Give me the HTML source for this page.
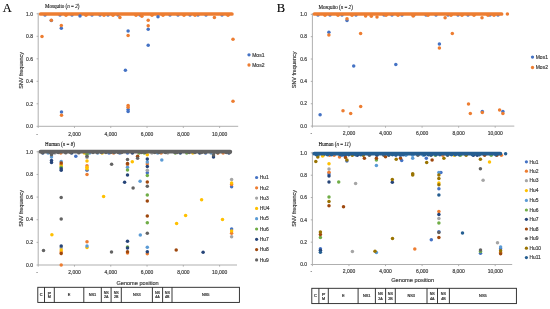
<!DOCTYPE html>
<html><head><meta charset="utf-8"><style>
html,body{margin:0;padding:0;background:#fff;}
body{width:550px;height:309px;overflow:hidden;}
svg{display:block;}
</style></head><body>
<svg width="550" height="309" viewBox="0 0 550 309">
<rect width="550" height="309" fill="#fff"/>
<text x="2.80" y="12.30" font-size="12.4" text-anchor="start" font-family='"Liberation Serif",serif' fill="#000" stroke="#000" stroke-width="0.12" >A</text>
<text x="276.80" y="12.00" font-size="12.6" text-anchor="start" font-family='"Liberation Serif",serif' fill="#000" stroke="#000" stroke-width="0.12" >B</text>
<line x1="38.2" y1="12.8" x2="38.2" y2="126.3" stroke="#A6A6A6" stroke-width="0.9"/>
<line x1="38.2" y1="126.3" x2="238.2" y2="126.3" stroke="#A6A6A6" stroke-width="0.9"/>
<line x1="36.6" y1="126.3" x2="38.2" y2="126.3" stroke="#A6A6A6" stroke-width="0.9"/>
<text x="32.90" y="128.00" font-size="4.95" text-anchor="end" font-family='"Liberation Sans",sans-serif' fill="#404040" stroke="#404040" stroke-width="0.18" >0.0</text>
<line x1="36.6" y1="103.8" x2="38.2" y2="103.8" stroke="#A6A6A6" stroke-width="0.9"/>
<text x="32.90" y="105.50" font-size="4.95" text-anchor="end" font-family='"Liberation Sans",sans-serif' fill="#404040" stroke="#404040" stroke-width="0.18" >0.2</text>
<line x1="36.6" y1="81.3" x2="38.2" y2="81.3" stroke="#A6A6A6" stroke-width="0.9"/>
<text x="32.90" y="83.00" font-size="4.95" text-anchor="end" font-family='"Liberation Sans",sans-serif' fill="#404040" stroke="#404040" stroke-width="0.18" >0.4</text>
<line x1="36.6" y1="58.8" x2="38.2" y2="58.8" stroke="#A6A6A6" stroke-width="0.9"/>
<text x="32.90" y="60.50" font-size="4.95" text-anchor="end" font-family='"Liberation Sans",sans-serif' fill="#404040" stroke="#404040" stroke-width="0.18" >0.6</text>
<line x1="36.6" y1="36.3" x2="38.2" y2="36.3" stroke="#A6A6A6" stroke-width="0.9"/>
<text x="32.90" y="38.00" font-size="4.95" text-anchor="end" font-family='"Liberation Sans",sans-serif' fill="#404040" stroke="#404040" stroke-width="0.18" >0.8</text>
<line x1="36.6" y1="13.799999999999997" x2="38.2" y2="13.799999999999997" stroke="#A6A6A6" stroke-width="0.9"/>
<text x="32.90" y="15.50" font-size="4.95" text-anchor="end" font-family='"Liberation Sans",sans-serif' fill="#404040" stroke="#404040" stroke-width="0.18" >1.0</text>
<line x1="38.2" y1="126.3" x2="38.2" y2="127.89999999999999" stroke="#A6A6A6" stroke-width="0.9"/>
<text x="37.20" y="135.50" font-size="4.95" text-anchor="middle" font-family='"Liberation Sans",sans-serif' fill="#404040" stroke="#404040" stroke-width="0.18" >-</text>
<line x1="74.48" y1="126.3" x2="74.48" y2="127.89999999999999" stroke="#A6A6A6" stroke-width="0.9"/>
<text x="74.48" y="135.50" font-size="4.95" text-anchor="middle" font-family='"Liberation Sans",sans-serif' fill="#404040" stroke="#404040" stroke-width="0.18" >2,000</text>
<line x1="110.76" y1="126.3" x2="110.76" y2="127.89999999999999" stroke="#A6A6A6" stroke-width="0.9"/>
<text x="110.76" y="135.50" font-size="4.95" text-anchor="middle" font-family='"Liberation Sans",sans-serif' fill="#404040" stroke="#404040" stroke-width="0.18" >4,000</text>
<line x1="147.04000000000002" y1="126.3" x2="147.04000000000002" y2="127.89999999999999" stroke="#A6A6A6" stroke-width="0.9"/>
<text x="147.04" y="135.50" font-size="4.95" text-anchor="middle" font-family='"Liberation Sans",sans-serif' fill="#404040" stroke="#404040" stroke-width="0.18" >6,000</text>
<line x1="183.32" y1="126.3" x2="183.32" y2="127.89999999999999" stroke="#A6A6A6" stroke-width="0.9"/>
<text x="183.32" y="135.50" font-size="4.95" text-anchor="middle" font-family='"Liberation Sans",sans-serif' fill="#404040" stroke="#404040" stroke-width="0.18" >8,000</text>
<line x1="219.60000000000002" y1="126.3" x2="219.60000000000002" y2="127.89999999999999" stroke="#A6A6A6" stroke-width="0.9"/>
<text x="219.60" y="135.50" font-size="4.95" text-anchor="middle" font-family='"Liberation Sans",sans-serif' fill="#404040" stroke="#404040" stroke-width="0.18" >10,000</text>
<text x="45.00" y="8.30" font-size="5.05" text-anchor="start" font-family='"Liberation Serif",serif' fill="#111" stroke="#111" stroke-width="0.1" >Mosquito (<tspan font-style="italic">n</tspan> = <tspan font-style="italic">2</tspan>)</text>
<text x="0.00" y="0.00" font-size="5.45" text-anchor="middle" font-family='"Liberation Sans",sans-serif' fill="#404040" stroke="#404040" stroke-width="0.18" transform="translate(23.1,70.4) rotate(-90)">SNV frequency</text>
<circle cx="45.0" cy="14.9" r="1.75" fill="#4472C4"/>
<circle cx="60.0" cy="14.9" r="1.75" fill="#4472C4"/>
<circle cx="72.0" cy="14.9" r="1.75" fill="#4472C4"/>
<circle cx="92.0" cy="14.9" r="1.75" fill="#4472C4"/>
<circle cx="100.0" cy="14.9" r="1.75" fill="#4472C4"/>
<circle cx="108.0" cy="14.9" r="1.75" fill="#4472C4"/>
<circle cx="118.0" cy="14.9" r="1.75" fill="#4472C4"/>
<circle cx="140.0" cy="14.9" r="1.75" fill="#4472C4"/>
<circle cx="170.0" cy="14.9" r="1.75" fill="#4472C4"/>
<circle cx="178.0" cy="14.9" r="1.75" fill="#4472C4"/>
<circle cx="190.0" cy="14.9" r="1.75" fill="#4472C4"/>
<circle cx="198.0" cy="14.9" r="1.75" fill="#4472C4"/>
<circle cx="206.0" cy="14.9" r="1.75" fill="#4472C4"/>
<circle cx="222.0" cy="14.9" r="1.75" fill="#4472C4"/>
<circle cx="66.0" cy="15.2" r="1.75" fill="#ED7D31"/>
<circle cx="86.0" cy="15.2" r="1.75" fill="#ED7D31"/>
<circle cx="104.0" cy="15.2" r="1.75" fill="#ED7D31"/>
<circle cx="113.0" cy="15.2" r="1.75" fill="#ED7D31"/>
<circle cx="136.0" cy="15.2" r="1.75" fill="#ED7D31"/>
<circle cx="152.0" cy="15.2" r="1.75" fill="#ED7D31"/>
<circle cx="163.0" cy="15.2" r="1.75" fill="#ED7D31"/>
<circle cx="184.0" cy="15.2" r="1.75" fill="#ED7D31"/>
<circle cx="195.0" cy="15.2" r="1.75" fill="#ED7D31"/>
<circle cx="228.0" cy="15.2" r="1.75" fill="#ED7D31"/>
<line x1="40.6" y1="14.0" x2="231.9" y2="14.0" stroke="#ED7D31" stroke-width="3.7" stroke-linecap="round"/>
<circle cx="51.3" cy="20.6" r="1.75" fill="#4472C4"/>
<circle cx="61.3" cy="28.3" r="1.75" fill="#4472C4"/>
<circle cx="80.0" cy="15.9" r="1.75" fill="#4472C4"/>
<circle cx="158.0" cy="16.8" r="1.75" fill="#4472C4"/>
<circle cx="128.1" cy="31.0" r="1.75" fill="#4472C4"/>
<circle cx="148.2" cy="29.2" r="1.75" fill="#4472C4"/>
<circle cx="148.2" cy="45.3" r="1.75" fill="#4472C4"/>
<circle cx="125.4" cy="70.2" r="1.75" fill="#4472C4"/>
<circle cx="61.5" cy="112.0" r="1.75" fill="#4472C4"/>
<circle cx="128.1" cy="109.6" r="1.75" fill="#4472C4"/>
<circle cx="128.1" cy="111.5" r="1.75" fill="#4472C4"/>
<circle cx="42.0" cy="36.5" r="1.75" fill="#ED7D31"/>
<circle cx="51.3" cy="20.2" r="1.75" fill="#ED7D31"/>
<circle cx="61.3" cy="25.4" r="1.75" fill="#ED7D31"/>
<circle cx="119.9" cy="17.5" r="1.75" fill="#ED7D31"/>
<circle cx="141.9" cy="16.3" r="1.75" fill="#ED7D31"/>
<circle cx="128.1" cy="35.4" r="1.75" fill="#ED7D31"/>
<circle cx="148.2" cy="20.2" r="1.75" fill="#ED7D31"/>
<circle cx="148.2" cy="25.8" r="1.75" fill="#ED7D31"/>
<circle cx="61.5" cy="115.3" r="1.75" fill="#ED7D31"/>
<circle cx="128.1" cy="105.4" r="1.75" fill="#ED7D31"/>
<circle cx="128.1" cy="107.3" r="1.75" fill="#ED7D31"/>
<circle cx="214.4" cy="17.5" r="1.75" fill="#ED7D31"/>
<circle cx="233.0" cy="39.2" r="1.75" fill="#ED7D31"/>
<circle cx="233.0" cy="101.3" r="1.75" fill="#ED7D31"/>
<circle cx="249.0" cy="54.8" r="1.65" fill="#4472C4"/>
<text x="252.20" y="56.60" font-size="5.0" text-anchor="start" font-family='"Liberation Sans",sans-serif' fill="#404040" stroke="#404040" stroke-width="0.18" >Mos1</text>
<circle cx="249.0" cy="65.0" r="1.65" fill="#ED7D31"/>
<text x="252.20" y="66.80" font-size="5.0" text-anchor="start" font-family='"Liberation Sans",sans-serif' fill="#404040" stroke="#404040" stroke-width="0.18" >Mos2</text>
<line x1="38.2" y1="150.8" x2="38.2" y2="265.0" stroke="#A6A6A6" stroke-width="0.9"/>
<line x1="38.2" y1="265.0" x2="237.0" y2="265.0" stroke="#A6A6A6" stroke-width="0.9"/>
<line x1="36.6" y1="265.0" x2="38.2" y2="265.0" stroke="#A6A6A6" stroke-width="0.9"/>
<text x="32.90" y="266.70" font-size="4.95" text-anchor="end" font-family='"Liberation Sans",sans-serif' fill="#404040" stroke="#404040" stroke-width="0.18" >0.0</text>
<line x1="36.6" y1="242.36" x2="38.2" y2="242.36" stroke="#A6A6A6" stroke-width="0.9"/>
<text x="32.90" y="244.06" font-size="4.95" text-anchor="end" font-family='"Liberation Sans",sans-serif' fill="#404040" stroke="#404040" stroke-width="0.18" >0.2</text>
<line x1="36.6" y1="219.72" x2="38.2" y2="219.72" stroke="#A6A6A6" stroke-width="0.9"/>
<text x="32.90" y="221.42" font-size="4.95" text-anchor="end" font-family='"Liberation Sans",sans-serif' fill="#404040" stroke="#404040" stroke-width="0.18" >0.4</text>
<line x1="36.6" y1="197.07999999999998" x2="38.2" y2="197.07999999999998" stroke="#A6A6A6" stroke-width="0.9"/>
<text x="32.90" y="198.78" font-size="4.95" text-anchor="end" font-family='"Liberation Sans",sans-serif' fill="#404040" stroke="#404040" stroke-width="0.18" >0.6</text>
<line x1="36.6" y1="174.44" x2="38.2" y2="174.44" stroke="#A6A6A6" stroke-width="0.9"/>
<text x="32.90" y="176.14" font-size="4.95" text-anchor="end" font-family='"Liberation Sans",sans-serif' fill="#404040" stroke="#404040" stroke-width="0.18" >0.8</text>
<line x1="36.6" y1="151.8" x2="38.2" y2="151.8" stroke="#A6A6A6" stroke-width="0.9"/>
<text x="32.90" y="153.50" font-size="4.95" text-anchor="end" font-family='"Liberation Sans",sans-serif' fill="#404040" stroke="#404040" stroke-width="0.18" >1.0</text>
<line x1="38.2" y1="265.0" x2="38.2" y2="266.6" stroke="#A6A6A6" stroke-width="0.9"/>
<text x="37.20" y="273.60" font-size="4.95" text-anchor="middle" font-family='"Liberation Sans",sans-serif' fill="#404040" stroke="#404040" stroke-width="0.18" >-</text>
<line x1="74.48" y1="265.0" x2="74.48" y2="266.6" stroke="#A6A6A6" stroke-width="0.9"/>
<text x="74.48" y="273.60" font-size="4.95" text-anchor="middle" font-family='"Liberation Sans",sans-serif' fill="#404040" stroke="#404040" stroke-width="0.18" >2,000</text>
<line x1="110.76" y1="265.0" x2="110.76" y2="266.6" stroke="#A6A6A6" stroke-width="0.9"/>
<text x="110.76" y="273.60" font-size="4.95" text-anchor="middle" font-family='"Liberation Sans",sans-serif' fill="#404040" stroke="#404040" stroke-width="0.18" >4,000</text>
<line x1="147.04000000000002" y1="265.0" x2="147.04000000000002" y2="266.6" stroke="#A6A6A6" stroke-width="0.9"/>
<text x="147.04" y="273.60" font-size="4.95" text-anchor="middle" font-family='"Liberation Sans",sans-serif' fill="#404040" stroke="#404040" stroke-width="0.18" >6,000</text>
<line x1="183.32" y1="265.0" x2="183.32" y2="266.6" stroke="#A6A6A6" stroke-width="0.9"/>
<text x="183.32" y="273.60" font-size="4.95" text-anchor="middle" font-family='"Liberation Sans",sans-serif' fill="#404040" stroke="#404040" stroke-width="0.18" >8,000</text>
<line x1="219.60000000000002" y1="265.0" x2="219.60000000000002" y2="266.6" stroke="#A6A6A6" stroke-width="0.9"/>
<text x="219.60" y="273.60" font-size="4.95" text-anchor="middle" font-family='"Liberation Sans",sans-serif' fill="#404040" stroke="#404040" stroke-width="0.18" >10,000</text>
<text x="45.00" y="146.20" font-size="5.05" text-anchor="start" font-family='"Liberation Serif",serif' fill="#111" stroke="#111" stroke-width="0.1" >Human (<tspan font-style="italic">n</tspan> = <tspan font-style="italic">8</tspan>)</text>
<text x="0.00" y="0.00" font-size="5.45" text-anchor="middle" font-family='"Liberation Sans",sans-serif' fill="#404040" stroke="#404040" stroke-width="0.18" transform="translate(23.1,208.4) rotate(-90)">SNV frequency</text>
<text x="137.60" y="284.70" font-size="5.6" text-anchor="middle" font-family='"Liberation Sans",sans-serif' fill="#404040" stroke="#404040" stroke-width="0.18" >Genome position</text>
<circle cx="42.8" cy="153.0" r="1.75" fill="#264478"/>
<circle cx="48.1" cy="153.0" r="1.75" fill="#5B9BD5"/>
<circle cx="54.9" cy="153.0" r="1.75" fill="#A5A5A5"/>
<circle cx="60.8" cy="153.0" r="1.75" fill="#ED7D31"/>
<circle cx="65.8" cy="153.0" r="1.75" fill="#A5A5A5"/>
<circle cx="71.6" cy="153.0" r="1.75" fill="#264478"/>
<circle cx="78.6" cy="153.0" r="1.75" fill="#A5A5A5"/>
<circle cx="84.4" cy="153.0" r="1.75" fill="#FFC000"/>
<circle cx="89.7" cy="153.0" r="1.75" fill="#5B9BD5"/>
<circle cx="97.6" cy="153.0" r="1.75" fill="#5B9BD5"/>
<circle cx="102.2" cy="153.0" r="1.75" fill="#FFC000"/>
<circle cx="109.0" cy="153.0" r="1.75" fill="#4472C4"/>
<circle cx="113.5" cy="153.0" r="1.75" fill="#ED7D31"/>
<circle cx="119.9" cy="153.0" r="1.75" fill="#4472C4"/>
<circle cx="127.5" cy="153.0" r="1.75" fill="#4472C4"/>
<circle cx="132.4" cy="153.0" r="1.75" fill="#264478"/>
<circle cx="139.1" cy="153.0" r="1.75" fill="#70AD47"/>
<circle cx="144.2" cy="153.0" r="1.75" fill="#70AD47"/>
<circle cx="151.9" cy="153.0" r="1.75" fill="#A5A5A5"/>
<circle cx="157.6" cy="153.0" r="1.75" fill="#5B9BD5"/>
<circle cx="161.1" cy="153.0" r="1.75" fill="#ED7D31"/>
<circle cx="167.7" cy="153.0" r="1.75" fill="#A5A5A5"/>
<circle cx="175.3" cy="153.0" r="1.75" fill="#70AD47"/>
<circle cx="180.3" cy="153.0" r="1.75" fill="#264478"/>
<circle cx="186.7" cy="153.0" r="1.75" fill="#70AD47"/>
<circle cx="192.8" cy="153.0" r="1.75" fill="#FFC000"/>
<circle cx="199.7" cy="153.0" r="1.75" fill="#264478"/>
<circle cx="205.6" cy="153.0" r="1.75" fill="#4472C4"/>
<circle cx="211.1" cy="153.0" r="1.75" fill="#5B9BD5"/>
<circle cx="217.9" cy="153.0" r="1.75" fill="#9E480E"/>
<circle cx="223.1" cy="153.0" r="1.75" fill="#ED7D31"/>
<circle cx="228.9" cy="153.0" r="1.75" fill="#264478"/>
<circle cx="75.8" cy="156.3" r="1.75" fill="#4472C4"/>
<circle cx="87.0" cy="170.2" r="1.75" fill="#4472C4"/>
<circle cx="147.3" cy="172.8" r="1.75" fill="#4472C4"/>
<circle cx="231.6" cy="186.7" r="1.75" fill="#4472C4"/>
<circle cx="231.6" cy="228.9" r="1.75" fill="#4472C4"/>
<circle cx="61.2" cy="164.4" r="1.75" fill="#ED7D31"/>
<circle cx="61.2" cy="252.0" r="1.75" fill="#ED7D31"/>
<circle cx="61.2" cy="265.0" r="1.75" fill="#ED7D31"/>
<circle cx="87.0" cy="165.8" r="1.75" fill="#ED7D31"/>
<circle cx="87.0" cy="174.5" r="1.75" fill="#ED7D31"/>
<circle cx="87.0" cy="241.8" r="1.75" fill="#ED7D31"/>
<circle cx="127.5" cy="164.4" r="1.75" fill="#ED7D31"/>
<circle cx="127.5" cy="253.1" r="1.75" fill="#ED7D31"/>
<circle cx="147.3" cy="164.0" r="1.75" fill="#ED7D31"/>
<circle cx="147.3" cy="253.7" r="1.75" fill="#ED7D31"/>
<circle cx="231.6" cy="184.4" r="1.75" fill="#ED7D31"/>
<circle cx="231.6" cy="233.3" r="1.75" fill="#ED7D31"/>
<circle cx="61.2" cy="247.8" r="1.75" fill="#A5A5A5"/>
<circle cx="87.0" cy="157.6" r="1.75" fill="#A5A5A5"/>
<circle cx="147.3" cy="170.2" r="1.75" fill="#A5A5A5"/>
<circle cx="231.6" cy="179.6" r="1.75" fill="#A5A5A5"/>
<circle cx="231.6" cy="236.7" r="1.75" fill="#A5A5A5"/>
<circle cx="61.2" cy="166.0" r="1.75" fill="#FFC000"/>
<circle cx="61.2" cy="249.9" r="1.75" fill="#FFC000"/>
<circle cx="87.0" cy="161.0" r="1.75" fill="#FFC000"/>
<circle cx="87.0" cy="167.3" r="1.75" fill="#FFC000"/>
<circle cx="87.0" cy="168.7" r="1.75" fill="#FFC000"/>
<circle cx="87.0" cy="247.6" r="1.75" fill="#FFC000"/>
<circle cx="51.9" cy="234.8" r="1.75" fill="#FFC000"/>
<circle cx="132.3" cy="161.7" r="1.75" fill="#FFC000"/>
<circle cx="103.6" cy="196.5" r="1.75" fill="#FFC000"/>
<circle cx="147.3" cy="154.7" r="1.75" fill="#FFC000"/>
<circle cx="231.6" cy="182.9" r="1.75" fill="#FFC000"/>
<circle cx="231.6" cy="230.9" r="1.75" fill="#FFC000"/>
<circle cx="201.6" cy="199.8" r="1.75" fill="#FFC000"/>
<circle cx="185.6" cy="215.4" r="1.75" fill="#FFC000"/>
<circle cx="176.6" cy="223.4" r="1.75" fill="#FFC000"/>
<circle cx="222.5" cy="219.5" r="1.75" fill="#FFC000"/>
<circle cx="51.5" cy="157.0" r="1.75" fill="#5B9BD5"/>
<circle cx="61.2" cy="161.5" r="1.75" fill="#5B9BD5"/>
<circle cx="87.0" cy="245.9" r="1.75" fill="#5B9BD5"/>
<circle cx="127.5" cy="167.3" r="1.75" fill="#5B9BD5"/>
<circle cx="140.1" cy="181.3" r="1.75" fill="#5B9BD5"/>
<circle cx="147.3" cy="162.0" r="1.75" fill="#5B9BD5"/>
<circle cx="147.3" cy="247.2" r="1.75" fill="#5B9BD5"/>
<circle cx="161.8" cy="160.1" r="1.75" fill="#5B9BD5"/>
<circle cx="140.3" cy="235.1" r="1.75" fill="#5B9BD5"/>
<circle cx="61.2" cy="167.3" r="1.75" fill="#70AD47"/>
<circle cx="87.0" cy="154.3" r="1.75" fill="#70AD47"/>
<circle cx="127.5" cy="169.9" r="1.75" fill="#70AD47"/>
<circle cx="127.5" cy="246.9" r="1.75" fill="#70AD47"/>
<circle cx="147.3" cy="175.5" r="1.75" fill="#70AD47"/>
<circle cx="147.3" cy="195.1" r="1.75" fill="#70AD47"/>
<circle cx="147.3" cy="222.7" r="1.75" fill="#70AD47"/>
<circle cx="51.5" cy="160.5" r="1.75" fill="#264478"/>
<circle cx="51.5" cy="162.5" r="1.75" fill="#264478"/>
<circle cx="61.2" cy="168.7" r="1.75" fill="#264478"/>
<circle cx="61.2" cy="170.2" r="1.75" fill="#264478"/>
<circle cx="61.2" cy="245.9" r="1.75" fill="#264478"/>
<circle cx="127.5" cy="175.1" r="1.75" fill="#264478"/>
<circle cx="127.5" cy="241.3" r="1.75" fill="#264478"/>
<circle cx="127.5" cy="248.1" r="1.75" fill="#264478"/>
<circle cx="124.6" cy="182.3" r="1.75" fill="#264478"/>
<circle cx="147.3" cy="159.0" r="1.75" fill="#264478"/>
<circle cx="147.3" cy="166.4" r="1.75" fill="#264478"/>
<circle cx="147.3" cy="251.7" r="1.75" fill="#264478"/>
<circle cx="213.5" cy="157.0" r="1.75" fill="#264478"/>
<circle cx="203.1" cy="252.2" r="1.75" fill="#264478"/>
<circle cx="61.2" cy="162.9" r="1.75" fill="#9E480E"/>
<circle cx="61.2" cy="253.5" r="1.75" fill="#9E480E"/>
<circle cx="127.5" cy="163.4" r="1.75" fill="#9E480E"/>
<circle cx="127.5" cy="251.7" r="1.75" fill="#9E480E"/>
<circle cx="137.6" cy="156.3" r="1.75" fill="#9E480E"/>
<circle cx="147.3" cy="181.9" r="1.75" fill="#9E480E"/>
<circle cx="147.3" cy="201.0" r="1.75" fill="#9E480E"/>
<circle cx="147.3" cy="215.9" r="1.75" fill="#9E480E"/>
<circle cx="176.2" cy="250.0" r="1.75" fill="#9E480E"/>
<circle cx="51.5" cy="154.7" r="1.75" fill="#636363"/>
<circle cx="61.2" cy="197.4" r="1.75" fill="#636363"/>
<circle cx="61.2" cy="218.9" r="1.75" fill="#636363"/>
<circle cx="87.0" cy="156.3" r="1.75" fill="#636363"/>
<circle cx="43.5" cy="250.5" r="1.75" fill="#636363"/>
<circle cx="111.6" cy="164.2" r="1.75" fill="#636363"/>
<circle cx="111.5" cy="252.1" r="1.75" fill="#636363"/>
<circle cx="127.5" cy="159.6" r="1.75" fill="#636363"/>
<circle cx="133.1" cy="188.1" r="1.75" fill="#636363"/>
<circle cx="137.6" cy="158.2" r="1.75" fill="#636363"/>
<circle cx="147.3" cy="186.2" r="1.75" fill="#636363"/>
<circle cx="147.3" cy="233.3" r="1.75" fill="#636363"/>
<circle cx="213.5" cy="155.1" r="1.75" fill="#636363"/>
<line x1="40.5" y1="151.65" x2="230.3" y2="151.65" stroke="#636363" stroke-width="3.8" stroke-linecap="round"/>
<circle cx="42.1" cy="152.6" r="1.75" fill="#636363"/>
<circle cx="50.0" cy="152.6" r="1.75" fill="#636363"/>
<circle cx="53.4" cy="152.6" r="1.75" fill="#636363"/>
<circle cx="58.3" cy="152.6" r="1.75" fill="#636363"/>
<circle cx="65.6" cy="152.6" r="1.75" fill="#636363"/>
<circle cx="70.6" cy="152.6" r="1.75" fill="#636363"/>
<circle cx="79.0" cy="152.6" r="1.75" fill="#636363"/>
<circle cx="93.0" cy="152.6" r="1.75" fill="#636363"/>
<circle cx="97.1" cy="152.6" r="1.75" fill="#636363"/>
<circle cx="101.5" cy="152.6" r="1.75" fill="#636363"/>
<circle cx="105.9" cy="152.6" r="1.75" fill="#636363"/>
<circle cx="110.7" cy="152.6" r="1.75" fill="#636363"/>
<circle cx="114.3" cy="152.6" r="1.75" fill="#636363"/>
<circle cx="118.3" cy="152.6" r="1.75" fill="#636363"/>
<circle cx="121.6" cy="152.6" r="1.75" fill="#636363"/>
<circle cx="141.5" cy="152.6" r="1.75" fill="#636363"/>
<circle cx="145.1" cy="152.6" r="1.75" fill="#636363"/>
<circle cx="154.7" cy="152.6" r="1.75" fill="#636363"/>
<circle cx="158.9" cy="152.6" r="1.75" fill="#636363"/>
<circle cx="165.4" cy="152.6" r="1.75" fill="#636363"/>
<circle cx="175.0" cy="152.6" r="1.75" fill="#636363"/>
<circle cx="177.1" cy="152.6" r="1.75" fill="#636363"/>
<circle cx="189.2" cy="152.6" r="1.75" fill="#636363"/>
<circle cx="194.9" cy="152.6" r="1.75" fill="#636363"/>
<circle cx="201.5" cy="152.6" r="1.75" fill="#636363"/>
<circle cx="205.1" cy="152.6" r="1.75" fill="#636363"/>
<circle cx="214.1" cy="152.6" r="1.75" fill="#636363"/>
<circle cx="217.4" cy="152.6" r="1.75" fill="#636363"/>
<circle cx="226.3" cy="152.6" r="1.75" fill="#636363"/>
<circle cx="229.8" cy="152.6" r="1.75" fill="#636363"/>
<circle cx="256.6" cy="177.5" r="1.6" fill="#4472C4"/>
<text x="259.80" y="179.25" font-size="4.9" text-anchor="start" font-family='"Liberation Sans",sans-serif' fill="#404040" stroke="#404040" stroke-width="0.18" >Hu1</text>
<circle cx="256.6" cy="187.8" r="1.6" fill="#ED7D31"/>
<text x="259.80" y="189.55" font-size="4.9" text-anchor="start" font-family='"Liberation Sans",sans-serif' fill="#404040" stroke="#404040" stroke-width="0.18" >Hu2</text>
<circle cx="256.6" cy="198.1" r="1.6" fill="#A5A5A5"/>
<text x="259.80" y="199.85" font-size="4.9" text-anchor="start" font-family='"Liberation Sans",sans-serif' fill="#404040" stroke="#404040" stroke-width="0.18" >Hu3</text>
<circle cx="256.6" cy="208.4" r="1.6" fill="#FFC000"/>
<text x="259.80" y="210.15" font-size="4.9" text-anchor="start" font-family='"Liberation Sans",sans-serif' fill="#404040" stroke="#404040" stroke-width="0.18" >HU4</text>
<circle cx="256.6" cy="218.7" r="1.6" fill="#5B9BD5"/>
<text x="259.80" y="220.45" font-size="4.9" text-anchor="start" font-family='"Liberation Sans",sans-serif' fill="#404040" stroke="#404040" stroke-width="0.18" >Hu5</text>
<circle cx="256.6" cy="229.0" r="1.6" fill="#70AD47"/>
<text x="259.80" y="230.75" font-size="4.9" text-anchor="start" font-family='"Liberation Sans",sans-serif' fill="#404040" stroke="#404040" stroke-width="0.18" >Hu6</text>
<circle cx="256.6" cy="239.3" r="1.6" fill="#264478"/>
<text x="259.80" y="241.05" font-size="4.9" text-anchor="start" font-family='"Liberation Sans",sans-serif' fill="#404040" stroke="#404040" stroke-width="0.18" >Hu7</text>
<circle cx="256.6" cy="249.6" r="1.6" fill="#9E480E"/>
<text x="259.80" y="251.35" font-size="4.9" text-anchor="start" font-family='"Liberation Sans",sans-serif' fill="#404040" stroke="#404040" stroke-width="0.18" >Hu8</text>
<circle cx="256.6" cy="259.9" r="1.6" fill="#636363"/>
<text x="259.80" y="261.65" font-size="4.9" text-anchor="start" font-family='"Liberation Sans",sans-serif' fill="#404040" stroke="#404040" stroke-width="0.18" >Hu9</text>
<rect x="37.8" y="287.3" width="201.60000000000002" height="15.099999999999966" fill="none" stroke="#222" stroke-width="0.9"/>
<line x1="44.5" y1="287.3" x2="44.5" y2="302.4" stroke="#222" stroke-width="0.9"/>
<line x1="54.3" y1="287.3" x2="54.3" y2="302.4" stroke="#222" stroke-width="0.9"/>
<line x1="83.8" y1="287.3" x2="83.8" y2="302.4" stroke="#222" stroke-width="0.9"/>
<line x1="101.3" y1="287.3" x2="101.3" y2="302.4" stroke="#222" stroke-width="0.9"/>
<line x1="111.1" y1="287.3" x2="111.1" y2="302.4" stroke="#222" stroke-width="0.9"/>
<line x1="121.3" y1="287.3" x2="121.3" y2="302.4" stroke="#222" stroke-width="0.9"/>
<line x1="152.4" y1="287.3" x2="152.4" y2="302.4" stroke="#222" stroke-width="0.9"/>
<line x1="162.6" y1="287.3" x2="162.6" y2="302.4" stroke="#222" stroke-width="0.9"/>
<line x1="172.0" y1="287.3" x2="172.0" y2="302.4" stroke="#222" stroke-width="0.9"/>
<text x="41.20" y="296.25" font-size="3.9" text-anchor="middle" font-family='"Liberation Sans",sans-serif' fill="#333" stroke="#333" stroke-width="0.2" >C</text>
<text x="49.40" y="294.35" font-size="3.7" text-anchor="middle" font-family='"Liberation Sans",sans-serif' fill="#333" stroke="#333" stroke-width="0.2" >pr</text>
<text x="49.40" y="298.45" font-size="3.7" text-anchor="middle" font-family='"Liberation Sans",sans-serif' fill="#333" stroke="#333" stroke-width="0.2" >M</text>
<text x="69.00" y="296.25" font-size="3.9" text-anchor="middle" font-family='"Liberation Sans",sans-serif' fill="#333" stroke="#333" stroke-width="0.2" >E</text>
<text x="92.50" y="296.25" font-size="3.9" text-anchor="middle" font-family='"Liberation Sans",sans-serif' fill="#333" stroke="#333" stroke-width="0.2" >NS1</text>
<text x="106.20" y="294.35" font-size="3.7" text-anchor="middle" font-family='"Liberation Sans",sans-serif' fill="#333" stroke="#333" stroke-width="0.2" >NS</text>
<text x="106.20" y="298.45" font-size="3.7" text-anchor="middle" font-family='"Liberation Sans",sans-serif' fill="#333" stroke="#333" stroke-width="0.2" >2A</text>
<text x="116.20" y="294.35" font-size="3.7" text-anchor="middle" font-family='"Liberation Sans",sans-serif' fill="#333" stroke="#333" stroke-width="0.2" >NS</text>
<text x="116.20" y="298.45" font-size="3.7" text-anchor="middle" font-family='"Liberation Sans",sans-serif' fill="#333" stroke="#333" stroke-width="0.2" >2B</text>
<text x="136.90" y="296.25" font-size="3.9" text-anchor="middle" font-family='"Liberation Sans",sans-serif' fill="#333" stroke="#333" stroke-width="0.2" >NS3</text>
<text x="157.50" y="294.35" font-size="3.7" text-anchor="middle" font-family='"Liberation Sans",sans-serif' fill="#333" stroke="#333" stroke-width="0.2" >NS</text>
<text x="157.50" y="298.45" font-size="3.7" text-anchor="middle" font-family='"Liberation Sans",sans-serif' fill="#333" stroke="#333" stroke-width="0.2" >4A</text>
<text x="167.30" y="294.35" font-size="3.7" text-anchor="middle" font-family='"Liberation Sans",sans-serif' fill="#333" stroke="#333" stroke-width="0.2" >NS</text>
<text x="167.30" y="298.45" font-size="3.7" text-anchor="middle" font-family='"Liberation Sans",sans-serif' fill="#333" stroke="#333" stroke-width="0.2" >4B</text>
<text x="205.70" y="296.25" font-size="3.9" text-anchor="middle" font-family='"Liberation Sans",sans-serif' fill="#333" stroke="#333" stroke-width="0.2" >NS5</text>
<line x1="312.4" y1="13.3" x2="312.4" y2="126.1" stroke="#A6A6A6" stroke-width="0.9"/>
<line x1="312.4" y1="126.1" x2="514.3" y2="126.1" stroke="#A6A6A6" stroke-width="0.9"/>
<line x1="310.79999999999995" y1="126.1" x2="312.4" y2="126.1" stroke="#A6A6A6" stroke-width="0.9"/>
<text x="307.10" y="127.80" font-size="4.95" text-anchor="end" font-family='"Liberation Sans",sans-serif' fill="#404040" stroke="#404040" stroke-width="0.18" >0.0</text>
<line x1="310.79999999999995" y1="103.74" x2="312.4" y2="103.74" stroke="#A6A6A6" stroke-width="0.9"/>
<text x="307.10" y="105.44" font-size="4.95" text-anchor="end" font-family='"Liberation Sans",sans-serif' fill="#404040" stroke="#404040" stroke-width="0.18" >0.2</text>
<line x1="310.79999999999995" y1="81.38" x2="312.4" y2="81.38" stroke="#A6A6A6" stroke-width="0.9"/>
<text x="307.10" y="83.08" font-size="4.95" text-anchor="end" font-family='"Liberation Sans",sans-serif' fill="#404040" stroke="#404040" stroke-width="0.18" >0.4</text>
<line x1="310.79999999999995" y1="59.019999999999996" x2="312.4" y2="59.019999999999996" stroke="#A6A6A6" stroke-width="0.9"/>
<text x="307.10" y="60.72" font-size="4.95" text-anchor="end" font-family='"Liberation Sans",sans-serif' fill="#404040" stroke="#404040" stroke-width="0.18" >0.6</text>
<line x1="310.79999999999995" y1="36.66" x2="312.4" y2="36.66" stroke="#A6A6A6" stroke-width="0.9"/>
<text x="307.10" y="38.36" font-size="4.95" text-anchor="end" font-family='"Liberation Sans",sans-serif' fill="#404040" stroke="#404040" stroke-width="0.18" >0.8</text>
<line x1="310.79999999999995" y1="14.299999999999997" x2="312.4" y2="14.299999999999997" stroke="#A6A6A6" stroke-width="0.9"/>
<text x="307.10" y="16.00" font-size="4.95" text-anchor="end" font-family='"Liberation Sans",sans-serif' fill="#404040" stroke="#404040" stroke-width="0.18" >1.0</text>
<line x1="312.4" y1="126.1" x2="312.4" y2="127.69999999999999" stroke="#A6A6A6" stroke-width="0.9"/>
<text x="311.40" y="135.00" font-size="4.95" text-anchor="middle" font-family='"Liberation Sans",sans-serif' fill="#404040" stroke="#404040" stroke-width="0.18" >-</text>
<line x1="348.96" y1="126.1" x2="348.96" y2="127.69999999999999" stroke="#A6A6A6" stroke-width="0.9"/>
<text x="348.96" y="135.00" font-size="4.95" text-anchor="middle" font-family='"Liberation Sans",sans-serif' fill="#404040" stroke="#404040" stroke-width="0.18" >2,000</text>
<line x1="385.52" y1="126.1" x2="385.52" y2="127.69999999999999" stroke="#A6A6A6" stroke-width="0.9"/>
<text x="385.52" y="135.00" font-size="4.95" text-anchor="middle" font-family='"Liberation Sans",sans-serif' fill="#404040" stroke="#404040" stroke-width="0.18" >4,000</text>
<line x1="422.08" y1="126.1" x2="422.08" y2="127.69999999999999" stroke="#A6A6A6" stroke-width="0.9"/>
<text x="422.08" y="135.00" font-size="4.95" text-anchor="middle" font-family='"Liberation Sans",sans-serif' fill="#404040" stroke="#404040" stroke-width="0.18" >6,000</text>
<line x1="458.64" y1="126.1" x2="458.64" y2="127.69999999999999" stroke="#A6A6A6" stroke-width="0.9"/>
<text x="458.64" y="135.00" font-size="4.95" text-anchor="middle" font-family='"Liberation Sans",sans-serif' fill="#404040" stroke="#404040" stroke-width="0.18" >8,000</text>
<line x1="495.2" y1="126.1" x2="495.2" y2="127.69999999999999" stroke="#A6A6A6" stroke-width="0.9"/>
<text x="495.20" y="135.00" font-size="4.95" text-anchor="middle" font-family='"Liberation Sans",sans-serif' fill="#404040" stroke="#404040" stroke-width="0.18" >10,000</text>
<text x="318.40" y="8.60" font-size="5.05" text-anchor="start" font-family='"Liberation Serif",serif' fill="#111" stroke="#111" stroke-width="0.1" >Mosquito (<tspan font-style="italic">n</tspan> = <tspan font-style="italic">2</tspan>)</text>
<text x="0.00" y="0.00" font-size="5.45" text-anchor="middle" font-family='"Liberation Sans",sans-serif' fill="#404040" stroke="#404040" stroke-width="0.18" transform="translate(296.2,69.9) rotate(-90)">SNV frequency</text>
<circle cx="318.0" cy="14.9" r="1.75" fill="#4472C4"/>
<circle cx="330.0" cy="14.9" r="1.75" fill="#4472C4"/>
<circle cx="342.0" cy="14.9" r="1.75" fill="#4472C4"/>
<circle cx="356.0" cy="14.9" r="1.75" fill="#4472C4"/>
<circle cx="384.0" cy="14.9" r="1.75" fill="#4472C4"/>
<circle cx="392.0" cy="14.9" r="1.75" fill="#4472C4"/>
<circle cx="402.0" cy="14.9" r="1.75" fill="#4472C4"/>
<circle cx="414.0" cy="14.9" r="1.75" fill="#4472C4"/>
<circle cx="426.0" cy="14.9" r="1.75" fill="#4472C4"/>
<circle cx="436.0" cy="14.9" r="1.75" fill="#4472C4"/>
<circle cx="448.0" cy="14.9" r="1.75" fill="#4472C4"/>
<circle cx="458.0" cy="14.9" r="1.75" fill="#4472C4"/>
<circle cx="468.0" cy="14.9" r="1.75" fill="#4472C4"/>
<circle cx="490.0" cy="14.9" r="1.75" fill="#4472C4"/>
<circle cx="498.0" cy="14.9" r="1.75" fill="#4472C4"/>
<circle cx="325.0" cy="15.2" r="1.75" fill="#ED7D31"/>
<circle cx="338.0" cy="15.2" r="1.75" fill="#ED7D31"/>
<circle cx="352.0" cy="15.2" r="1.75" fill="#ED7D31"/>
<circle cx="386.0" cy="15.2" r="1.75" fill="#ED7D31"/>
<circle cx="398.0" cy="15.2" r="1.75" fill="#ED7D31"/>
<circle cx="413.0" cy="15.2" r="1.75" fill="#ED7D31"/>
<circle cx="428.0" cy="15.2" r="1.75" fill="#ED7D31"/>
<circle cx="451.0" cy="15.2" r="1.75" fill="#ED7D31"/>
<circle cx="462.0" cy="15.2" r="1.75" fill="#ED7D31"/>
<circle cx="474.0" cy="15.2" r="1.75" fill="#ED7D31"/>
<circle cx="488.0" cy="15.2" r="1.75" fill="#ED7D31"/>
<circle cx="494.0" cy="15.2" r="1.75" fill="#ED7D31"/>
<line x1="314.4" y1="14.0" x2="501.6" y2="14.0" stroke="#ED7D31" stroke-width="3.7" stroke-linecap="round"/>
<circle cx="328.9" cy="32.3" r="1.75" fill="#4472C4"/>
<circle cx="347.0" cy="20.4" r="1.75" fill="#4472C4"/>
<circle cx="353.7" cy="66.1" r="1.75" fill="#4472C4"/>
<circle cx="395.8" cy="64.6" r="1.75" fill="#4472C4"/>
<circle cx="439.4" cy="44.1" r="1.75" fill="#4472C4"/>
<circle cx="320.1" cy="114.8" r="1.75" fill="#4472C4"/>
<circle cx="482.3" cy="111.6" r="1.75" fill="#4472C4"/>
<circle cx="502.9" cy="111.6" r="1.75" fill="#4472C4"/>
<circle cx="328.9" cy="35.1" r="1.75" fill="#ED7D31"/>
<circle cx="347.0" cy="18.8" r="1.75" fill="#ED7D31"/>
<circle cx="360.6" cy="33.6" r="1.75" fill="#ED7D31"/>
<circle cx="377.0" cy="17.0" r="1.75" fill="#ED7D31"/>
<circle cx="445.1" cy="17.7" r="1.75" fill="#ED7D31"/>
<circle cx="482.0" cy="17.7" r="1.75" fill="#ED7D31"/>
<circle cx="452.3" cy="33.5" r="1.75" fill="#ED7D31"/>
<circle cx="439.4" cy="48.0" r="1.75" fill="#ED7D31"/>
<circle cx="507.4" cy="14.1" r="1.75" fill="#ED7D31"/>
<circle cx="343.0" cy="110.7" r="1.75" fill="#ED7D31"/>
<circle cx="350.7" cy="113.4" r="1.75" fill="#ED7D31"/>
<circle cx="360.7" cy="106.6" r="1.75" fill="#ED7D31"/>
<circle cx="468.5" cy="104.0" r="1.75" fill="#ED7D31"/>
<circle cx="470.3" cy="113.4" r="1.75" fill="#ED7D31"/>
<circle cx="482.3" cy="112.6" r="1.75" fill="#ED7D31"/>
<circle cx="499.6" cy="109.9" r="1.75" fill="#ED7D31"/>
<circle cx="502.9" cy="113.4" r="1.75" fill="#ED7D31"/>
<circle cx="365.6" cy="15.9" r="1.75" fill="#ED7D31"/>
<circle cx="371.3" cy="16.2" r="1.75" fill="#ED7D31"/>
<circle cx="413.2" cy="16.0" r="1.75" fill="#ED7D31"/>
<circle cx="532.5" cy="57.1" r="1.65" fill="#4472C4"/>
<text x="535.70" y="58.90" font-size="5.0" text-anchor="start" font-family='"Liberation Sans",sans-serif' fill="#404040" stroke="#404040" stroke-width="0.18" >Mos1</text>
<circle cx="532.5" cy="67.5" r="1.65" fill="#ED7D31"/>
<text x="535.70" y="69.30" font-size="5.0" text-anchor="start" font-family='"Liberation Sans",sans-serif' fill="#404040" stroke="#404040" stroke-width="0.18" >Mos2</text>
<line x1="312.4" y1="151.9" x2="312.4" y2="264.5" stroke="#A6A6A6" stroke-width="0.9"/>
<line x1="312.4" y1="264.5" x2="512.2" y2="264.5" stroke="#A6A6A6" stroke-width="0.9"/>
<line x1="310.79999999999995" y1="264.5" x2="312.4" y2="264.5" stroke="#A6A6A6" stroke-width="0.9"/>
<text x="307.10" y="266.20" font-size="4.95" text-anchor="end" font-family='"Liberation Sans",sans-serif' fill="#404040" stroke="#404040" stroke-width="0.18" >0.0</text>
<line x1="310.79999999999995" y1="242.18" x2="312.4" y2="242.18" stroke="#A6A6A6" stroke-width="0.9"/>
<text x="307.10" y="243.88" font-size="4.95" text-anchor="end" font-family='"Liberation Sans",sans-serif' fill="#404040" stroke="#404040" stroke-width="0.18" >0.2</text>
<line x1="310.79999999999995" y1="219.86" x2="312.4" y2="219.86" stroke="#A6A6A6" stroke-width="0.9"/>
<text x="307.10" y="221.56" font-size="4.95" text-anchor="end" font-family='"Liberation Sans",sans-serif' fill="#404040" stroke="#404040" stroke-width="0.18" >0.4</text>
<line x1="310.79999999999995" y1="197.54000000000002" x2="312.4" y2="197.54000000000002" stroke="#A6A6A6" stroke-width="0.9"/>
<text x="307.10" y="199.24" font-size="4.95" text-anchor="end" font-family='"Liberation Sans",sans-serif' fill="#404040" stroke="#404040" stroke-width="0.18" >0.6</text>
<line x1="310.79999999999995" y1="175.22" x2="312.4" y2="175.22" stroke="#A6A6A6" stroke-width="0.9"/>
<text x="307.10" y="176.92" font-size="4.95" text-anchor="end" font-family='"Liberation Sans",sans-serif' fill="#404040" stroke="#404040" stroke-width="0.18" >0.8</text>
<line x1="310.79999999999995" y1="152.9" x2="312.4" y2="152.9" stroke="#A6A6A6" stroke-width="0.9"/>
<text x="307.10" y="154.60" font-size="4.95" text-anchor="end" font-family='"Liberation Sans",sans-serif' fill="#404040" stroke="#404040" stroke-width="0.18" >1.0</text>
<line x1="312.4" y1="264.5" x2="312.4" y2="266.1" stroke="#A6A6A6" stroke-width="0.9"/>
<text x="311.40" y="273.20" font-size="4.95" text-anchor="middle" font-family='"Liberation Sans",sans-serif' fill="#404040" stroke="#404040" stroke-width="0.18" >-</text>
<line x1="348.96" y1="264.5" x2="348.96" y2="266.1" stroke="#A6A6A6" stroke-width="0.9"/>
<text x="348.96" y="273.20" font-size="4.95" text-anchor="middle" font-family='"Liberation Sans",sans-serif' fill="#404040" stroke="#404040" stroke-width="0.18" >2,000</text>
<line x1="385.52" y1="264.5" x2="385.52" y2="266.1" stroke="#A6A6A6" stroke-width="0.9"/>
<text x="385.52" y="273.20" font-size="4.95" text-anchor="middle" font-family='"Liberation Sans",sans-serif' fill="#404040" stroke="#404040" stroke-width="0.18" >4,000</text>
<line x1="422.08" y1="264.5" x2="422.08" y2="266.1" stroke="#A6A6A6" stroke-width="0.9"/>
<text x="422.08" y="273.20" font-size="4.95" text-anchor="middle" font-family='"Liberation Sans",sans-serif' fill="#404040" stroke="#404040" stroke-width="0.18" >6,000</text>
<line x1="458.64" y1="264.5" x2="458.64" y2="266.1" stroke="#A6A6A6" stroke-width="0.9"/>
<text x="458.64" y="273.20" font-size="4.95" text-anchor="middle" font-family='"Liberation Sans",sans-serif' fill="#404040" stroke="#404040" stroke-width="0.18" >8,000</text>
<line x1="495.2" y1="264.5" x2="495.2" y2="266.1" stroke="#A6A6A6" stroke-width="0.9"/>
<text x="495.20" y="273.20" font-size="4.95" text-anchor="middle" font-family='"Liberation Sans",sans-serif' fill="#404040" stroke="#404040" stroke-width="0.18" >10,000</text>
<text x="318.60" y="146.40" font-size="5.05" text-anchor="start" font-family='"Liberation Serif",serif' fill="#111" stroke="#111" stroke-width="0.1" >Human (<tspan font-style="italic">n</tspan> = <tspan font-style="italic">11</tspan>)</text>
<text x="0.00" y="0.00" font-size="5.45" text-anchor="middle" font-family='"Liberation Sans",sans-serif' fill="#404040" stroke="#404040" stroke-width="0.18" transform="translate(296.2,208.4) rotate(-90)">SNV frequency</text>
<text x="412.70" y="282.00" font-size="5.7" text-anchor="middle" font-family='"Liberation Sans",sans-serif' fill="#404040" stroke="#404040" stroke-width="0.18" >Genome position</text>
<circle cx="317.8" cy="155.2" r="1.75" fill="#70AD47"/>
<circle cx="323.0" cy="155.2" r="1.75" fill="#997300"/>
<circle cx="329.5" cy="155.2" r="1.75" fill="#ED7D31"/>
<circle cx="334.1" cy="155.2" r="1.75" fill="#ED7D31"/>
<circle cx="341.7" cy="155.2" r="1.75" fill="#4472C4"/>
<circle cx="345.1" cy="155.2" r="1.75" fill="#264478"/>
<circle cx="352.3" cy="155.2" r="1.75" fill="#997300"/>
<circle cx="357.3" cy="155.2" r="1.75" fill="#264478"/>
<circle cx="363.2" cy="155.2" r="1.75" fill="#997300"/>
<circle cx="369.4" cy="155.2" r="1.75" fill="#636363"/>
<circle cx="376.9" cy="155.2" r="1.75" fill="#264478"/>
<circle cx="383.8" cy="155.2" r="1.75" fill="#636363"/>
<circle cx="388.8" cy="155.2" r="1.75" fill="#636363"/>
<circle cx="395.9" cy="155.2" r="1.75" fill="#4472C4"/>
<circle cx="400.7" cy="155.2" r="1.75" fill="#4472C4"/>
<circle cx="405.9" cy="155.2" r="1.75" fill="#5B9BD5"/>
<circle cx="412.6" cy="155.2" r="1.75" fill="#5B9BD5"/>
<circle cx="417.9" cy="155.2" r="1.75" fill="#636363"/>
<circle cx="423.3" cy="155.2" r="1.75" fill="#5B9BD5"/>
<circle cx="430.9" cy="155.2" r="1.75" fill="#636363"/>
<circle cx="435.3" cy="155.2" r="1.75" fill="#70AD47"/>
<circle cx="442.7" cy="155.2" r="1.75" fill="#ED7D31"/>
<circle cx="447.6" cy="155.2" r="1.75" fill="#636363"/>
<circle cx="454.3" cy="155.2" r="1.75" fill="#FFC000"/>
<circle cx="460.4" cy="155.2" r="1.75" fill="#70AD47"/>
<circle cx="466.1" cy="155.2" r="1.75" fill="#997300"/>
<circle cx="473.4" cy="155.2" r="1.75" fill="#264478"/>
<circle cx="477.2" cy="155.2" r="1.75" fill="#264478"/>
<circle cx="484.6" cy="155.2" r="1.75" fill="#9E480E"/>
<circle cx="491.2" cy="155.2" r="1.75" fill="#70AD47"/>
<circle cx="496.8" cy="155.2" r="1.75" fill="#9E480E"/>
<circle cx="501.4" cy="155.2" r="1.75" fill="#ED7D31"/>
<circle cx="329.0" cy="174.1" r="1.75" fill="#4472C4"/>
<circle cx="320.4" cy="248.8" r="1.75" fill="#4472C4"/>
<circle cx="346.9" cy="161.1" r="1.75" fill="#4472C4"/>
<circle cx="401.7" cy="160.5" r="1.75" fill="#4472C4"/>
<circle cx="426.3" cy="158.2" r="1.75" fill="#4472C4"/>
<circle cx="440.9" cy="172.6" r="1.75" fill="#4472C4"/>
<circle cx="438.9" cy="188.7" r="1.75" fill="#4472C4"/>
<circle cx="438.9" cy="231.8" r="1.75" fill="#4472C4"/>
<circle cx="431.3" cy="239.8" r="1.75" fill="#4472C4"/>
<circle cx="480.5" cy="253.2" r="1.75" fill="#4472C4"/>
<circle cx="500.6" cy="248.8" r="1.75" fill="#4472C4"/>
<circle cx="329.0" cy="172.2" r="1.75" fill="#ED7D31"/>
<circle cx="339.5" cy="157.0" r="1.75" fill="#ED7D31"/>
<circle cx="438.9" cy="211.5" r="1.75" fill="#ED7D31"/>
<circle cx="414.8" cy="249.1" r="1.75" fill="#ED7D31"/>
<circle cx="500.6" cy="252.5" r="1.75" fill="#ED7D31"/>
<circle cx="329.0" cy="168.9" r="1.75" fill="#A5A5A5"/>
<circle cx="355.6" cy="183.5" r="1.75" fill="#A5A5A5"/>
<circle cx="352.4" cy="251.5" r="1.75" fill="#A5A5A5"/>
<circle cx="438.9" cy="218.5" r="1.75" fill="#A5A5A5"/>
<circle cx="483.1" cy="180.3" r="1.75" fill="#A5A5A5"/>
<circle cx="497.5" cy="242.8" r="1.75" fill="#A5A5A5"/>
<circle cx="329.0" cy="163.8" r="1.75" fill="#FFC000"/>
<circle cx="322.6" cy="156.0" r="1.75" fill="#FFC000"/>
<circle cx="438.9" cy="182.9" r="1.75" fill="#FFC000"/>
<circle cx="489.5" cy="162.1" r="1.75" fill="#FFC000"/>
<circle cx="376.4" cy="252.5" r="1.75" fill="#5B9BD5"/>
<circle cx="376.4" cy="165.4" r="1.75" fill="#5B9BD5"/>
<circle cx="412.7" cy="158.2" r="1.75" fill="#5B9BD5"/>
<circle cx="438.9" cy="172.6" r="1.75" fill="#5B9BD5"/>
<circle cx="500.6" cy="247.1" r="1.75" fill="#5B9BD5"/>
<circle cx="329.0" cy="197.0" r="1.75" fill="#70AD47"/>
<circle cx="338.7" cy="182.1" r="1.75" fill="#70AD47"/>
<circle cx="320.4" cy="237.4" r="1.75" fill="#70AD47"/>
<circle cx="376.4" cy="160.1" r="1.75" fill="#70AD47"/>
<circle cx="438.9" cy="223.1" r="1.75" fill="#70AD47"/>
<circle cx="480.5" cy="251.5" r="1.75" fill="#70AD47"/>
<circle cx="329.0" cy="176.1" r="1.75" fill="#264478"/>
<circle cx="329.0" cy="181.9" r="1.75" fill="#264478"/>
<circle cx="320.4" cy="250.3" r="1.75" fill="#264478"/>
<circle cx="392.3" cy="182.3" r="1.75" fill="#264478"/>
<circle cx="438.9" cy="214.4" r="1.75" fill="#264478"/>
<circle cx="329.0" cy="205.8" r="1.75" fill="#9E480E"/>
<circle cx="343.5" cy="206.7" r="1.75" fill="#9E480E"/>
<circle cx="320.4" cy="234.5" r="1.75" fill="#9E480E"/>
<circle cx="345.5" cy="157.5" r="1.75" fill="#9E480E"/>
<circle cx="364.4" cy="158.2" r="1.75" fill="#9E480E"/>
<circle cx="376.4" cy="158.2" r="1.75" fill="#9E480E"/>
<circle cx="385.5" cy="156.7" r="1.75" fill="#9E480E"/>
<circle cx="400.5" cy="158.2" r="1.75" fill="#9E480E"/>
<circle cx="432.1" cy="160.1" r="1.75" fill="#9E480E"/>
<circle cx="438.9" cy="237.4" r="1.75" fill="#9E480E"/>
<circle cx="500.6" cy="253.7" r="1.75" fill="#9E480E"/>
<circle cx="438.9" cy="232.6" r="1.75" fill="#636363"/>
<circle cx="480.4" cy="168.7" r="1.75" fill="#636363"/>
<circle cx="480.5" cy="250.0" r="1.75" fill="#636363"/>
<circle cx="315.8" cy="161.5" r="1.75" fill="#997300"/>
<circle cx="329.0" cy="201.6" r="1.75" fill="#997300"/>
<circle cx="320.4" cy="232.1" r="1.75" fill="#997300"/>
<circle cx="375.0" cy="251.2" r="1.75" fill="#997300"/>
<circle cx="317.8" cy="157.0" r="1.75" fill="#997300"/>
<circle cx="346.9" cy="160.0" r="1.75" fill="#997300"/>
<circle cx="396.2" cy="159.2" r="1.75" fill="#997300"/>
<circle cx="426.7" cy="162.5" r="1.75" fill="#997300"/>
<circle cx="392.3" cy="179.4" r="1.75" fill="#997300"/>
<circle cx="412.7" cy="173.7" r="1.75" fill="#997300"/>
<circle cx="412.7" cy="175.1" r="1.75" fill="#997300"/>
<circle cx="438.9" cy="175.1" r="1.75" fill="#997300"/>
<circle cx="438.9" cy="178.4" r="1.75" fill="#997300"/>
<circle cx="438.9" cy="184.8" r="1.75" fill="#997300"/>
<circle cx="392.5" cy="238.6" r="1.75" fill="#997300"/>
<circle cx="443.9" cy="158.2" r="1.75" fill="#997300"/>
<circle cx="480.4" cy="159.2" r="1.75" fill="#997300"/>
<circle cx="500.6" cy="250.8" r="1.75" fill="#997300"/>
<circle cx="320.4" cy="252.2" r="1.75" fill="#255E91"/>
<circle cx="438.9" cy="195.1" r="1.75" fill="#255E91"/>
<circle cx="462.5" cy="233.1" r="1.75" fill="#255E91"/>
<line x1="314.3" y1="153.7" x2="500.4" y2="153.7" stroke="#255E91" stroke-width="3.8" stroke-linecap="round"/>
<circle cx="316.4" cy="154.7" r="1.75" fill="#255E91"/>
<circle cx="327.5" cy="154.7" r="1.75" fill="#255E91"/>
<circle cx="331.5" cy="154.7" r="1.75" fill="#255E91"/>
<circle cx="340.1" cy="154.7" r="1.75" fill="#255E91"/>
<circle cx="343.6" cy="154.7" r="1.75" fill="#255E91"/>
<circle cx="348.7" cy="154.7" r="1.75" fill="#255E91"/>
<circle cx="355.6" cy="154.7" r="1.75" fill="#255E91"/>
<circle cx="360.7" cy="154.7" r="1.75" fill="#255E91"/>
<circle cx="388.7" cy="154.7" r="1.75" fill="#255E91"/>
<circle cx="392.5" cy="154.7" r="1.75" fill="#255E91"/>
<circle cx="395.9" cy="154.7" r="1.75" fill="#255E91"/>
<circle cx="399.9" cy="154.7" r="1.75" fill="#255E91"/>
<circle cx="403.2" cy="154.7" r="1.75" fill="#255E91"/>
<circle cx="424.5" cy="154.7" r="1.75" fill="#255E91"/>
<circle cx="428.4" cy="154.7" r="1.75" fill="#255E91"/>
<circle cx="431.4" cy="154.7" r="1.75" fill="#255E91"/>
<circle cx="436.0" cy="154.7" r="1.75" fill="#255E91"/>
<circle cx="439.9" cy="154.7" r="1.75" fill="#255E91"/>
<circle cx="447.3" cy="154.7" r="1.75" fill="#255E91"/>
<circle cx="451.5" cy="154.7" r="1.75" fill="#255E91"/>
<circle cx="455.4" cy="154.7" r="1.75" fill="#255E91"/>
<circle cx="459.1" cy="154.7" r="1.75" fill="#255E91"/>
<circle cx="472.4" cy="154.7" r="1.75" fill="#255E91"/>
<circle cx="479.3" cy="154.7" r="1.75" fill="#255E91"/>
<circle cx="495.8" cy="154.7" r="1.75" fill="#255E91"/>
<circle cx="505.6" cy="153.7" r="1.75" fill="#255E91"/>
<circle cx="526.4" cy="161.8" r="1.6" fill="#4472C4"/>
<text x="529.40" y="163.55" font-size="4.9" text-anchor="start" font-family='"Liberation Sans",sans-serif' fill="#404040" stroke="#404040" stroke-width="0.18" >Hu1</text>
<circle cx="526.4" cy="171.2" r="1.6" fill="#ED7D31"/>
<text x="529.40" y="172.95" font-size="4.9" text-anchor="start" font-family='"Liberation Sans",sans-serif' fill="#404040" stroke="#404040" stroke-width="0.18" >Hu2</text>
<circle cx="526.4" cy="180.7" r="1.6" fill="#A5A5A5"/>
<text x="529.40" y="182.45" font-size="4.9" text-anchor="start" font-family='"Liberation Sans",sans-serif' fill="#404040" stroke="#404040" stroke-width="0.18" >Hu3</text>
<circle cx="526.4" cy="190.6" r="1.6" fill="#FFC000"/>
<text x="529.40" y="192.35" font-size="4.9" text-anchor="start" font-family='"Liberation Sans",sans-serif' fill="#404040" stroke="#404040" stroke-width="0.18" >Hu4</text>
<circle cx="526.4" cy="200.4" r="1.6" fill="#5B9BD5"/>
<text x="529.40" y="202.15" font-size="4.9" text-anchor="start" font-family='"Liberation Sans",sans-serif' fill="#404040" stroke="#404040" stroke-width="0.18" >Hu5</text>
<circle cx="526.4" cy="210.0" r="1.6" fill="#70AD47"/>
<text x="529.40" y="211.75" font-size="4.9" text-anchor="start" font-family='"Liberation Sans",sans-serif' fill="#404040" stroke="#404040" stroke-width="0.18" >Hu6</text>
<circle cx="526.4" cy="219.3" r="1.6" fill="#264478"/>
<text x="529.40" y="221.05" font-size="4.9" text-anchor="start" font-family='"Liberation Sans",sans-serif' fill="#404040" stroke="#404040" stroke-width="0.18" >Hu7</text>
<circle cx="526.4" cy="229.0" r="1.6" fill="#9E480E"/>
<text x="529.40" y="230.75" font-size="4.9" text-anchor="start" font-family='"Liberation Sans",sans-serif' fill="#404040" stroke="#404040" stroke-width="0.18" >Hu8</text>
<circle cx="526.4" cy="238.5" r="1.6" fill="#636363"/>
<text x="529.40" y="240.25" font-size="4.9" text-anchor="start" font-family='"Liberation Sans",sans-serif' fill="#404040" stroke="#404040" stroke-width="0.18" >Hu9</text>
<circle cx="526.4" cy="248.2" r="1.6" fill="#997300"/>
<text x="529.40" y="249.95" font-size="4.9" text-anchor="start" font-family='"Liberation Sans",sans-serif' fill="#404040" stroke="#404040" stroke-width="0.18" >Hu10</text>
<circle cx="526.4" cy="257.6" r="1.6" fill="#255E91"/>
<text x="529.40" y="259.35" font-size="4.9" text-anchor="start" font-family='"Liberation Sans",sans-serif' fill="#404040" stroke="#404040" stroke-width="0.18" >Hu11</text>
<rect x="311.8" y="288.3" width="204.59999999999997" height="15.300000000000011" fill="none" stroke="#222" stroke-width="0.9"/>
<line x1="318.9" y1="288.3" x2="318.9" y2="303.6" stroke="#222" stroke-width="0.9"/>
<line x1="328.3" y1="288.3" x2="328.3" y2="303.6" stroke="#222" stroke-width="0.9"/>
<line x1="358.1" y1="288.3" x2="358.1" y2="303.6" stroke="#222" stroke-width="0.9"/>
<line x1="375.4" y1="288.3" x2="375.4" y2="303.6" stroke="#222" stroke-width="0.9"/>
<line x1="385.6" y1="288.3" x2="385.6" y2="303.6" stroke="#222" stroke-width="0.9"/>
<line x1="395.3" y1="288.3" x2="395.3" y2="303.6" stroke="#222" stroke-width="0.9"/>
<line x1="427.0" y1="288.3" x2="427.0" y2="303.6" stroke="#222" stroke-width="0.9"/>
<line x1="437.5" y1="288.3" x2="437.5" y2="303.6" stroke="#222" stroke-width="0.9"/>
<line x1="449.4" y1="288.3" x2="449.4" y2="303.6" stroke="#222" stroke-width="0.9"/>
<text x="315.40" y="297.35" font-size="3.9" text-anchor="middle" font-family='"Liberation Sans",sans-serif' fill="#333" stroke="#333" stroke-width="0.2" >C</text>
<text x="323.60" y="295.45" font-size="3.7" text-anchor="middle" font-family='"Liberation Sans",sans-serif' fill="#333" stroke="#333" stroke-width="0.2" >pr</text>
<text x="323.60" y="299.55" font-size="3.7" text-anchor="middle" font-family='"Liberation Sans",sans-serif' fill="#333" stroke="#333" stroke-width="0.2" >M</text>
<text x="343.20" y="297.35" font-size="3.9" text-anchor="middle" font-family='"Liberation Sans",sans-serif' fill="#333" stroke="#333" stroke-width="0.2" >E</text>
<text x="366.70" y="297.35" font-size="3.9" text-anchor="middle" font-family='"Liberation Sans",sans-serif' fill="#333" stroke="#333" stroke-width="0.2" >NS1</text>
<text x="380.50" y="295.45" font-size="3.7" text-anchor="middle" font-family='"Liberation Sans",sans-serif' fill="#333" stroke="#333" stroke-width="0.2" >NS</text>
<text x="380.50" y="299.55" font-size="3.7" text-anchor="middle" font-family='"Liberation Sans",sans-serif' fill="#333" stroke="#333" stroke-width="0.2" >2A</text>
<text x="390.40" y="295.45" font-size="3.7" text-anchor="middle" font-family='"Liberation Sans",sans-serif' fill="#333" stroke="#333" stroke-width="0.2" >NS</text>
<text x="390.40" y="299.55" font-size="3.7" text-anchor="middle" font-family='"Liberation Sans",sans-serif' fill="#333" stroke="#333" stroke-width="0.2" >2B</text>
<text x="411.20" y="297.35" font-size="3.9" text-anchor="middle" font-family='"Liberation Sans",sans-serif' fill="#333" stroke="#333" stroke-width="0.2" >NS3</text>
<text x="432.20" y="295.45" font-size="3.7" text-anchor="middle" font-family='"Liberation Sans",sans-serif' fill="#333" stroke="#333" stroke-width="0.2" >NS</text>
<text x="432.20" y="299.55" font-size="3.7" text-anchor="middle" font-family='"Liberation Sans",sans-serif' fill="#333" stroke="#333" stroke-width="0.2" >4A</text>
<text x="443.40" y="295.45" font-size="3.7" text-anchor="middle" font-family='"Liberation Sans",sans-serif' fill="#333" stroke="#333" stroke-width="0.2" >NS</text>
<text x="443.40" y="299.55" font-size="3.7" text-anchor="middle" font-family='"Liberation Sans",sans-serif' fill="#333" stroke="#333" stroke-width="0.2" >4B</text>
<text x="482.90" y="297.35" font-size="3.9" text-anchor="middle" font-family='"Liberation Sans",sans-serif' fill="#333" stroke="#333" stroke-width="0.2" >NS5</text>
</svg>
</body></html>
